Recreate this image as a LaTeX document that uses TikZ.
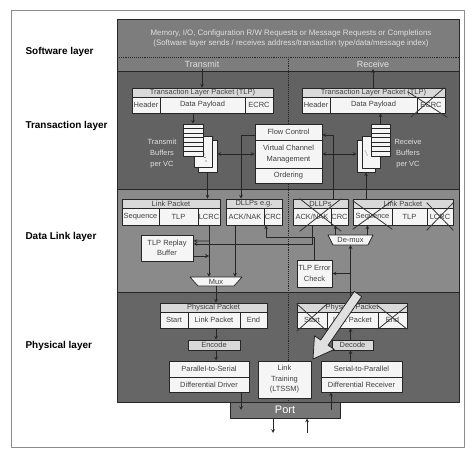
\documentclass[tikz,border=0pt]{standalone}
\usepackage{fontspec}
\setmainfont{Liberation Sans}
\definecolor{swgray}{RGB}{125,125,125}
\definecolor{tlgray}{RGB}{98,98,98}
\definecolor{dlgray}{RGB}{138,138,138}
\definecolor{phgray}{RGB}{102,102,102}
\definecolor{portgray}{RGB}{118,118,118}
\begin{document}
\begin{tikzpicture}[x=1bp,y=-1bp,>=stealth, line join=round, font=\fontsize{7.5}{9}\selectfont,
  fld/.style={draw=black!85, fill=black!4, text=black!75, inner sep=0pt, line width=0.7bp},
  ttl/.style={fld, fill=black!15},
  lyr/.style={draw=black!85, line width=1bp},
  lbl/.style={anchor=west, font=\fontsize{10}{12}\selectfont\bfseries},
  wtxt/.style={text=black!12, align=center, inner sep=1bp},
  wire/.style={line width=0.7bp, draw=black!85},
  xout/.style={line width=0.8bp, draw=black!80}]
\useasboundingbox (0,0) rectangle (474,456);
\draw[black!45, line width=0.8bp] (11,10) rectangle (464,447);
% layers
\draw[lyr, fill=swgray] (117,20) rectangle (459,72);
\draw[lyr, fill=tlgray] (117,72) rectangle (459,190);
\draw[lyr, fill=dlgray] (117,190) rectangle (459,292);
\draw[lyr, fill=phgray] (117,292) rectangle (459,402);
\draw[black!85, densely dotted, line width=0.9bp] (117,57) -- (459,57);
\draw[black!85, densely dotted, line width=0.9bp] (288,57) -- (288,402);
\node[lbl] (swlbl) at (22,52) {Software layer};
\node[lbl] (trlbl) at (22,126) {Transaction layer};
\node[lbl] (dllbl) at (22,237) {Data Link layer};
\node[lbl] (phlbl) at (22,346) {Physical layer};
\node[draw=black!85, line width=1bp, fill=portgray, minimum width=110bp, minimum height=16bp, text=white, font=\fontsize{11}{13}\selectfont] (port) at (285,410) {Port};
% software layer
\node[wtxt, font=\fontsize{7.9}{9.5}\selectfont] (swreq) at (291,38.5) {Memory, I/O, Configuration R/W Requests or Message Requests or Completions\\(Software layer sends / receives address/transaction type/data/message index)};
\node[wtxt, font=\fontsize{9}{11}\selectfont] (tx) at (202,64.5) {Transmit};
\node[wtxt, font=\fontsize{9}{11}\selectfont] (rx) at (373,64.5) {Receive};
% transaction layer
\node[ttl, minimum width=141bp, minimum height=9bp] (txtlp) at (202.5,92.5) {Transaction Layer Packet (TLP)};
\node[fld, minimum width=28bp, minimum height=16bp] (txhdr) at (146,105) {Header};
\node[fld, minimum width=85bp, minimum height=16bp] (txdata) at (202.5,105) {Data Payload};
\node[fld, minimum width=28bp, minimum height=16bp] (txecrc) at (259,105) {ECRC};
\node[ttl, minimum width=143bp, minimum height=9bp] (rxtlp) at (373.5,92.5) {Transaction Layer Packet (TLP)};
\node[fld, minimum width=28bp, minimum height=16bp] (rxhdr) at (316,105) {Header};
\node[fld, minimum width=87bp, minimum height=16bp] (rxdata) at (373.5,105) {Data Payload};
\node[fld, minimum width=28bp, minimum height=16bp] (rxecrc) at (431,105) {ECRC};
\node[fld, minimum width=19bp, minimum height=32bp] (txbufc) at (207.5,156) {};
\node[fld, minimum width=18bp, minimum height=31bp] (txbufb) at (203,151.5) {};
\node[fld, minimum width=20bp, minimum height=32bp] (txbufa) at (193,140) {};
\node[fld, minimum width=18bp, minimum height=32bp] (rxbufc) at (366,156) {};
\node[fld, minimum width=18bp, minimum height=32bp] (rxbufb) at (371,152) {};
\node[fld, minimum width=19bp, minimum height=32bp] (rxbufa) at (380.5,140) {};
\foreach \k in {1,...,6} {
  \draw[black!85, line width=0.5bp] ([yshift=-\k*4.6bp]txbufa.north west) -- ([yshift=-\k*4.6bp]txbufa.north east);
  \draw[black!85, line width=0.5bp] ([yshift=-\k*4.6bp]rxbufa.north west) -- ([yshift=-\k*4.6bp]rxbufa.north east);
}
\foreach \d in {0,1,2} {
  \fill[black!80] (204+\d,154+\d*3.5) circle (0.6bp);
  \fill[black!80] (365+\d,151+\d*2) circle (0.5bp);
}
\node[wtxt, font=\fontsize{7.5}{11}\selectfont] (txbuflbl) at (162,154) {Transmit\\Buffers\\per VC};
\node[wtxt, font=\fontsize{7.5}{11}\selectfont] (rxbuflbl) at (408,154) {Receive\\Buffers\\per VC};
\node[fld, minimum width=67bp, minimum height=16bp] (fc) at (288.5,132) {Flow Control};
\node[fld, minimum width=67bp, minimum height=28bp, align=center, font=\fontsize{7.5}{11}\selectfont] (vcm) at (288.5,154) {Virtual Channel\\Management};
\node[fld, minimum width=67bp, minimum height=15bp] (ord) at (288.5,175.5) {Ordering};
% data link layer
\node[ttl, minimum width=98bp, minimum height=9bp] (txlp) at (171,203.5) {Link Packet};
\node[fld, minimum width=37bp, minimum height=17bp] (txseq) at (140.5,216.5) {Sequence};
\node[fld, minimum width=39bp, minimum height=17bp] (txtlpf) at (178.5,216.5) {TLP};
\node[fld, minimum width=22bp, minimum height=17bp] (txlcrc) at (209,216.5) {LCRC};
\node[ttl, minimum width=56bp, minimum height=9bp] (txdllp) at (254,203.5) {DLLPs e.g.};
\node[fld, minimum width=38bp, minimum height=17bp] (txack) at (245,216.5) {ACK/NAK};
\node[fld, minimum width=18bp, minimum height=17bp] (txcrc) at (273,216.5) {CRC};
\node[ttl, minimum width=55bp, minimum height=9bp] (rxdllp) at (320.5,203.5) {DLLPs};
\node[fld, minimum width=38bp, minimum height=17bp] (rxack) at (312,216.5) {ACK/NAK};
\node[fld, minimum width=17bp, minimum height=17bp] (rxcrc) at (339.5,216.5) {CRC};
\node[ttl, minimum width=100bp, minimum height=9bp] (rxlp) at (403,203.5) {Link Packet};
\node[fld, minimum width=39bp, minimum height=17bp] (rxseq) at (372.5,216.5) {Sequence};
\node[fld, minimum width=35bp, minimum height=17bp] (rxtlpf) at (409.5,216.5) {TLP};
\node[fld, minimum width=26bp, minimum height=17bp] (rxlcrc) at (440,216.5) {LCRC};
\node[fld, line width=1bp, minimum width=52bp, minimum height=26bp, align=center, font=\fontsize{7.5}{10}\selectfont] (replay) at (167,248) {TLP Replay\\Buffer};
\node[fld, line width=1bp, minimum width=35bp, minimum height=27bp, align=center, font=\fontsize{7.5}{11}\selectfont] (errchk) at (314.5,273.5) {TLP Error\\Check};
\draw[fld] (190,277) -- (242,277) -- (234,286) -- (198,286) -- cycle;
\node[inner sep=0pt, minimum width=52bp, minimum height=9bp, text=black!75] (mux) at (216,281.5) {Mux};
\draw[fld] (328,235) -- (373,235) -- (368,245) -- (333,245) -- cycle;
\node[inner sep=0pt, minimum width=45bp, minimum height=10bp, text=black!75] (demux) at (350.5,240) {De-mux};
% physical layer
\node[ttl, minimum width=107bp, minimum height=9bp] (txpp) at (213.5,307.5) {Physical Packet};
\node[fld, minimum width=28bp, minimum height=16bp] (txstart) at (174,320) {Start};
\node[fld, minimum width=52bp, minimum height=16bp] (txlpk) at (214,320) {Link Packet};
\node[fld, minimum width=27bp, minimum height=16bp] (txend) at (253.5,320) {End};
\node[ttl, minimum width=52bp, minimum height=10bp] (enc) at (214,345) {Encode};
\node[fld, line width=1bp, minimum width=80bp, minimum height=16bp] (p2s) at (209,369) {Parallel-to-Serial};
\node[fld, line width=1bp, minimum width=80bp, minimum height=15bp] (ddrv) at (209,384.5) {Differential Driver};
\node[fld, line width=1bp, minimum width=53bp, minimum height=37bp, align=center, font=\fontsize{7.5}{10.5}\selectfont] (ltssm) at (284.5,379.5) {Link\\Training\\(LTSSM)};
\node[ttl, minimum width=110bp, minimum height=9bp] (rxpp) at (352,307.5) {Physical Packet};
\node[fld, minimum width=30bp, minimum height=16bp] (rxstart) at (312,320) {Start};
\node[fld, minimum width=51bp, minimum height=16bp] (rxlpk) at (352.5,320) {Link Packet};
\node[fld, minimum width=29bp, minimum height=16bp] (rxend) at (392.5,320) {End};
\node[ttl, minimum width=41bp, minimum height=10bp] (dec) at (352.5,345) {Decode};
\node[fld, line width=1bp, minimum width=81bp, minimum height=16bp] (s2p) at (361.5,369) {Serial-to-Parallel};
\node[fld, line width=1bp, minimum width=81bp, minimum height=15bp] (drcv) at (361.5,384.5) {Differential Receiver};
\coordinate (portout) at (273,433);
\coordinate (portin) at (307,433);
% connectors
\draw[wire,->] (tx.south) -- (tx.south |- txtlp.north);
\draw[wire,<-] (rx.south) -- (rx.south |- rxtlp.north);
\draw[wire,->] (txbufa.north |- txdata.south) -- (txbufa.north);
\draw[wire,->] (rxbufa.north) -- (rxbufa.north |- rxdata.south);
\draw[wire,<->] (vcm.west -| txbufc.east) -- (vcm.west);
\draw[wire,<->] (vcm.east) -- (vcm.east -| rxbufc.west);
\draw[wire,->] ([yshift=-3bp]fc.west) -| ([xshift=-13bp]txdllp.north);
\draw[wire,->] ([xshift=12.5bp]rxdllp.north) |- ([yshift=-3bp]fc.east);
\draw[wire,->] (txbufc.south) -- (txbufc.south |- txlp.north);
\draw[wire,->] (rxbufc.south |- rxlp.north) -- (rxbufc.south);
\draw[wire,->] (txlcrc.south) -- (txlcrc.south |- mux.north);
\draw[wire,->] ([xshift=-10bp]txack.south) -- ([xshift=-10bp]txack.south |- mux.north);
\draw[wire,->] (txlcrc.south |- replay.east) ++(0,-7) -- ([yshift=7bp]replay.east);
\draw[wire,->] ([yshift=-8bp]replay.east) -- ([yshift=-8bp]replay.east -| txlcrc.south);
\draw[wire,->] (rxack.south) |- ([yshift=4bp]replay.east);
\draw[wire,->] (errchk.north) -- ++(0,-22) -| ([xshift=-7bp]txcrc.south);
\draw[wire,->] ([xshift=-15bp]demux.north) -- ([xshift=-15bp]demux.north |- rxcrc.south);
\draw[wire,->] ([xshift=17bp]demux.north) -- ([xshift=17bp]demux.north |- rxseq.south);
\draw[wire,->] (demux.south |- rxpp.north) -- (demux.south);
\draw[wire,->] (demux.south |- errchk.east) -- (errchk.east);
\draw[wire,->] (mux.south) -- (mux.south |- txpp.north);
\draw[wire,->] (mux.south |- txstart.south) -- (mux.south |- enc.north);
\draw[wire,->] (mux.south |- enc.south) -- (mux.south |- p2s.north);
\draw[wire,->] ([xshift=32bp]ddrv.south) -- ([xshift=32bp]ddrv.south |- port.center);
\draw[wire,->] ([xshift=-30.5bp]drcv.south |- port.center) -- ([xshift=-30.5bp]drcv.south);
\draw[wire,->] (demux.south |- s2p.north) -- (demux.south |- dec.south);
\draw[wire,->] (demux.south |- dec.north) -- (demux.south |- rxstart.south);
\draw[wire,->] (portout |- port.south) -- (portout);
\draw[wire,->] (portin) -- (portin |- port.south);
% crossed out fields
\draw[xout] ([shift={(-9,-5)}]rxecrc.north west) -- ([shift={(2,4)}]rxecrc.south east);
\draw[xout] ([shift={(-6,4)}]rxecrc.south west) -- ([shift={(-1,-9)}]rxecrc.north east);
\draw[xout] ([shift={(7,-9)}]rxack.north west) -- ([shift={(10,6)}]rxack.south east);
\draw[xout] ([shift={(7,6)}]rxack.south west) -- ([shift={(10,-9)}]rxack.north east);
\foreach \f/\dt/\db in {rxseq/-7/4, rxlcrc/-5/5, rxstart/-8/3, rxend/-6/1} {
  \draw[xout] ([shift={(0,\dt)}]\f.north west) -- ([shift={(0,\db)}]\f.south east);
  \draw[xout] ([shift={(0,\db)}]\f.south west) -- ([shift={(0,\dt)}]\f.north east);
}
% training arrow
\draw[black!85, fill=black!12, line width=0.8bp] (354.3,291.4) -- (320.7,340.0) -- (314.5,335.8) -- (313,359) -- (334.3,349.4) -- (328.1,345.2) -- (361.7,296.6) -- cycle;
\end{tikzpicture}
\end{document}
